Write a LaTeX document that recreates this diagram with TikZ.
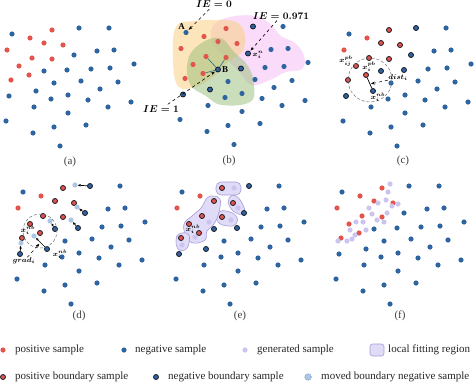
\documentclass[tikz,border=0pt]{standalone}
\usepackage{amsmath}
\usepackage{fontspec}
\setmainfont{Liberation Serif}
\usetikzlibrary{arrows.meta,positioning}

\definecolor{posred}{RGB}{226,84,76}
\definecolor{negblue}{RGB}{46,100,160}
\definecolor{genlav}{RGB}{202,196,238}
\definecolor{movblue}{RGB}{172,198,230}
\definecolor{regfill}{RGB}{224,220,247}
\definecolor{regline}{RGB}{165,155,218}
\definecolor{bdline}{RGB}{25,25,35}
\definecolor{ieorange}{RGB}{249,208,130}
\definecolor{iepink}{RGB}{244,170,242}
\definecolor{iegreen}{RGB}{150,190,120}
\definecolor{linkteal}{RGB}{40,110,130}

\newcommand\bluepts{1/12/34,2/79/28,3/109/28,4/74/55,5/97/51,6/114/50,7/134/64,8/44/71,9/67/70,10/91/69,11/110/68,12/54/83,13/81/81,14/118/82,15/36/91,16/100/89,17/9/96,18/51/99,19/68/95,20/88/100,21/131/102,22/34/107,23/108/107,24/68/113,25/6/121,26/54/127,27/86/125,28/33/133,29/60/146}
\newcommand\redpts{1/52/30,2/30/38,3/44/43,4/63/45,5/7/50,6/32/58,7/52/59,8/19/66,9/29/75,10/11/80}

\begin{document}
\begin{tikzpicture}[x=1pt,y=-1pt,
		dot/.style={circle,inner sep=0pt,minimum size=5.2pt},
		posdot/.style={dot,fill=posred},
		negdot/.style={dot,fill=negblue},
		posbd/.style={posdot,draw=bdline,line width=0.8pt,minimum size=5pt},
		negbd/.style={negdot,draw=bdline,line width=0.8pt,minimum size=5pt},
		gendot/.style={dot,fill=genlav},
		movdot/.style={dot,fill=movblue},
		fitregion/.style={draw=regline,fill=regfill,line width=0.6pt},
		iearrow/.style={dashed,-{Stealth[length=4pt,width=3pt]},line width=0.6pt,shorten >=1pt},
		movarrow/.style={-{Stealth[length=3pt,width=2.6pt]},line width=0.7pt,black},
		nbcircle/.style={densely dashed,black!55,line width=0.5pt},
		ielbl/.style={font=\boldmath\fontsize{10}{11}\selectfont,inner sep=1pt},
		smlbl/.style={font=\boldmath\fontsize{7.5}{8}\selectfont,inner sep=0.5pt},
		capt/.style={font=\fontsize{11}{12}\selectfont,text=black!75},
		legtext/.style={font=\fontsize{11}{12}\selectfont,text=black!85,anchor=west,inner sep=0pt}]
			\useasboundingbox (0,0) rectangle (474,383);

			\fill[iepink, fill opacity=0.42] plot[smooth cycle, tension=0.7] coordinates {(213,26) (230,17) (255,16) (270,24) (281,36) (295,43) (304,56) (302,69) (286,72) (270,80) (252,85) (240,73) (226,58) (213,44)};
			\fill[ieorange, fill opacity=0.55] plot[smooth cycle, tension=0.7] coordinates {(176,27) (195,21) (215,20) (236,22) (245,35) (242,52) (228,62) (214,76) (195,87) (178,86) (173,60)};
			\fill[iegreen, fill opacity=0.5] plot[smooth cycle, tension=0.7] coordinates {(188,60) (200,44) (220,38) (234,52) (248,66) (254,85) (250,102) (222,105) (206,96) (190,84)};

			\draw[fitregion, rounded corners=5pt] (216,182) rectangle (241,195);
			\draw[fitregion] plot[smooth cycle, tension=0.8] coordinates {(229,198) (236,196) (243,205) (244,212) (238,214) (230,207)};
			\draw[fitregion] plot[smooth cycle, tension=0.8] coordinates {(218,213) (226,211) (236,216) (236,224) (228,226) (218,222)};
			\draw[fitregion] plot[smooth cycle, tension=0.7] coordinates {(213,196) (220,199) (219,212) (214,224) (207,231) (205,240) (193,243) (186,236) (184,224) (192,216) (201,208) (207,198)};
			\draw[fitregion] plot[smooth cycle, tension=0.8] coordinates {(179,234) (188,234) (189,243) (185,250) (178,249) (176,240)};

			\foreach \p/\ox/\oy in {a/0/0,b/174/-1.5,c/337/0,d/11/158,e/170/158,f/330/158}{
				\begin{scope}[shift={(\ox,\oy)}]
					\foreach \n/\x/\y in \bluepts {\node[negdot] (\p-B\n) at (\x,\y) {};}
					\foreach \n/\x/\y in \redpts {\node[posdot] (\p-R\n) at (\x,\y) {};}
				\end{scope}
			}
			\foreach \p in {b,c,d,e}{\foreach \n in {2,4,8,9,15,17}{\node[negbd] (\p-nb\n) at (\p-B\n) {};}}
			\foreach \p in {c,d,e}{\foreach \n in {1,3,4,6,7,8,9,10}{\node[posbd] (\p-pb\n) at (\p-R\n) {};}}

			\path[linkteal, line width=0.6pt]
			(b-nb8) edge (b-R6)
			(b-nb8) edge (b-R7)
			(b-nb8) edge (b-R9);
			\node[font=\bfseries\fontsize{9}{10}\selectfont, inner sep=0pt] (lbl-A) [above left=1pt and -1pt of b-B1] {A};
			\node[font=\bfseries\fontsize{9}{10}\selectfont, inner sep=0pt] (lbl-B) [right=1pt of b-nb8] {B};
			\node[smlbl] (lbl-xn) [right=1pt of b-nb4, yshift=-1.5pt] {$x_i^n$};
			\node[ielbl] (ie0) at (214,4.5) {$IE = 0$};
			\node[ielbl] (ie971) at (281,16) {$IE = 0.971$};
			\node[ielbl] (ie1) at (161,109) {$IE = 1$};
			\path[iearrow]
			(ie0) edge (b-B1)
			(ie971) edge (b-nb4)
			(ie1) edge (b-nb8);

			\coordinate (c-ctr) at (370,80);
			\draw[nbcircle] (c-ctr) circle [radius=22pt];
			\path[draw, line width=0.7pt] (c-pb9) -- (c-nb15);
			\coordinate (c-mid) at (370,84);
			\node[smlbl] (lbl-xij) at (346,61) {$x_{ij}^{pb}$};
			\node[smlbl] (lbl-xpb) at (369,67) {$x_i^{pb}$};
			\node[smlbl] (lbl-xnb) at (378,97) {$x_i^{nb}$};
			\node[smlbl] (lbl-dist) at (398,78) {$dist_i$};
			\path[iearrow, line width=0.5pt] (lbl-dist) edge (c-mid);

			\coordinate (d-ctr) at (40,231);
			\draw[nbcircle] (d-ctr) circle [radius=17pt];
			\foreach \n/\x/\y in {2/75/185,4/77/207,8/50/221,9/71/220,15/34/236,17/21/243}{
				\node[movdot] (d-m\n) at (\x,\y) {};
				\path[movarrow] (d-nb\n) edge (d-m\n);
			}
			\coordinate (d-mid) at (40,243);
			\node[smlbl] (lbl-dnb) at (60,254) {$x_i^{nb}$};
			\node[smlbl] (lbl-dnbm) at (28,230) {$x_i^{nb}$};
			\node[smlbl] (lbl-grad) at (24,261) {$grad_i$};
			\path[iearrow, line width=0.5pt] (lbl-grad) edge (d-mid);

			\foreach \x/\y [count=\i] in {234/188,238/208,231/220,209/222,195/237,182/245}{\node[gendot] (e-g\i) at (\x,\y) {};}
			\node[smlbl] (lbl-enb) at (193,229) {$x_i^{nb}$};

			\foreach \x/\y [count=\i] in {390/184,388/192,378/203,386/200,392/206,398/204,369/208,372/214,387/213,377/220,384/222,356/222,363/222,350/230,366/230,355/235,352/239,347/241,338/241}{\node[gendot] (f-g\i) at (\x,\y) {};}

			\node[capt] (cap-a) at (70,162) {(a)};
			\node[capt] (cap-b) at (229,161) {(b)};
			\node[capt] (cap-c) at (403,161) {(c)};
			\node[capt] (cap-d) at (79,316) {(d)};
			\node[capt] (cap-e) at (240,316) {(e)};
			\node[capt] (cap-f) at (400,316) {(f)};

			\node[posdot] (leg-pos) at (3,350) {};
			\node[legtext] (leg-post) at (15,350) {positive sample};
			\node[negdot] (leg-neg) at (124,350) {};
			\node[legtext] (leg-negt) at (135,350) {negative sample};
			\node[gendot] (leg-gen) at (245,350) {};
			\node[legtext] (leg-gent) at (257,350) {generated sample};
			\node[fitregion, rounded corners=2.5pt, minimum width=14pt, minimum height=12pt, inner sep=0pt] (leg-reg) at (377,350) {};
			\node[legtext] (leg-regt) at (388,350) {local fitting region};
			\node[posbd] (leg-pb) at (3,377) {};
			\node[legtext] (leg-pbt) at (15,377) {positive boundary sample};
			\node[negbd] (leg-nb) at (156,377) {};
			\node[legtext] (leg-nbt) at (168,377) {negative boundary sample};
			\node[movdot, draw=negblue!60, densely dotted, line width=0.9pt, minimum size=6.5pt] (leg-mov) at (308,377) {};
			\node[legtext] (leg-movt) at (321,377) {moved boundary negative sample};
		\end{tikzpicture}
\end{document}
